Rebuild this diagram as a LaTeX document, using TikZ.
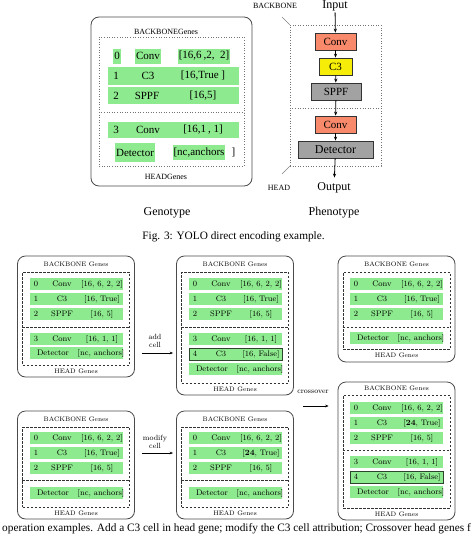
\documentclass[tikz,border=0pt]{standalone}
\usepackage{fontspec}
\usetikzlibrary{arrows.meta, positioning, calc}
\newfontfamily\figfont{Liberation Serif}
\definecolor{genegreen}{HTML}{8EEA8E}
\definecolor{convorange}{HTML}{F8896A}
\definecolor{cthreeyellow}{HTML}{F6EE08}
\definecolor{blockgray}{HTML}{A2A2A2}
\definecolor{framegray}{HTML}{4A4A4A}

% style, name, x-left, y, index, cell, args
\newcommand{\gtriple}[7]{%
  \node[genebar, #1] (#2) at (#3,#4) {};
  \node[genetext] (#2-n) at ([xshift=6pt]#2.west) {#5};
  \node[genetext] (#2-c) at ([xshift=32pt]#2.west) {#6};
  \node[genetext] (#2-a) at ([xshift=72pt]#2.west) {#7};
}
\newcommand{\detrow}[3]{%
  \node[genebar] (#1) at (#2,#3) {};
  \node[genetext] (#1-c) at ([xshift=23pt]#1.west) {Detector};
  \node[genetext] (#1-a) at ([xshift=71pt]#1.west) {[nc, anchors]};
}
% name, centre x, outer top, outer bottom, dashed top, dashed bottom, divider
\newcommand{\geneframe}[7]{%
  \node[outerframe, minimum width=117pt, minimum height=#4-#3] (#1) at (#2,{(#3+#4)/2}) {};
  \node[dashframe, minimum width=107pt, minimum height=#6-#5] (#1-in) at (#2,{(#5+#6)/2}) {};
  \draw[dashline] (#1-in.west |- 0,#7) -- (#1-in.east |- 0,#7);
  \node[framelabel] (#1-bb) at (#2,{(#3+#5)/2}) {BACKBONE Genes};
  \node[framelabel] (#1-hd) at (#2,{(#4+#6)/2}) {HEAD Genes};
}

\begin{document}
\begin{tikzpicture}[x=1pt, y=-1pt,
  every node/.style={font=\figfont},
  gpatch/.style={fill=genegreen, inner sep=1pt, minimum height=15pt, font=\figfont\fontsize{11}{13}\selectfont},
  gtxt/.style={font=\figfont\fontsize{11}{13}\selectfont, inner sep=0pt},
  gbar/.style={fill=genegreen, inner sep=0pt, minimum width=131pt},
  smalllbl/.style={font=\figfont\fontsize{8}{9}\selectfont, inner sep=0pt},
  biglbl/.style={font=\figfont\fontsize{12}{14}\selectfont, inner sep=1pt},
  block/.style={draw=black!80, line width=0.8pt, inner sep=0pt, minimum height=17pt, font=\figfont\fontsize{11}{13}\selectfont},
  flow/.style={-{Stealth[length=4pt, width=3.2pt]}, line width=0.8pt},
  tick/.style={draw=black!50, line width=0.4pt},
  outerframe/.style={draw=framegray, rounded corners=8pt, line width=0.8pt, inner sep=0pt},
  dotframe/.style={draw=black!55, dotted, line width=0.6pt, inner sep=0pt},
  dotline/.style={draw=black!55, dotted, line width=0.6pt},
  genebar/.style={fill=genegreen, anchor=west, minimum width=93pt, minimum height=12pt, inner sep=0pt},
  genetext/.style={font=\rmfamily\fontsize{8}{9}\selectfont, inner sep=0pt},
  dashframe/.style={draw=black!80, dash pattern=on 2.5pt off 1.5pt, line width=0.8pt, inner sep=0pt},
  dashline/.style={draw=black!80, dash pattern=on 2.5pt off 1.5pt, line width=0.8pt},
  framelabel/.style={font=\rmfamily\fontsize{6.5}{7}\selectfont, inner sep=0pt},
  oplabel/.style={font=\rmfamily\fontsize{7.5}{8.5}\selectfont, align=center, inner sep=0pt},
  oparrow/.style={-{Stealth[length=3.5pt, width=2.6pt]}, line width=0.5pt},
  newgene/.style={draw=black!70!genegreen, line width=0.8pt},
  caption/.style={font=\figfont\fontsize{11.3}{13}\selectfont, inner sep=0pt},
]
\useasboundingbox (0,0) rectangle (474,538);

% Genotype
\node[outerframe, minimum width=161pt, minimum height=169pt] (geno) at (171.5,101.5) {};
\node[dotframe, minimum width=145pt, minimum height=129pt] (genoin) at (171.5,101.5) {};
\draw[dotline] (genoin.west |- 0,112) -- (genoin.east |- 0,112);
\node[smalllbl] (genobb) at (166,32) {BACKBONEGenes};
\node[smalllbl] (genohd) at (166,177) {HEADGenes};

\node[gpatch] (g0n) at (117,56) {0};
\node[gpatch] (g0c) at (148,56) {Conv};
\node[gpatch] (g0a) at (204,56) {[16,6\,,2,\ \ 2]};
\node[gbar, minimum height=18pt] (g1) at (173.5,76) {};
\node[gtxt] (g1n) at (116,76) {1};
\node[gtxt] (g1c) at (148,76) {C3};
\node[gtxt] (g1a) at (203,76) {[16,True\ ]};
\node[gbar, minimum height=17pt] (g2) at (173.5,95.5) {};
\node[gtxt] (g2n) at (116,95.5) {2};
\node[gtxt] (g2c) at (147,95.5) {SPPF};
\node[gtxt] (g2a) at (203,95.5) {[16,5]};
\node[gbar, minimum height=16pt] (g3) at (173.5,130) {};
\node[gtxt] (g3n) at (116,130) {3};
\node[gtxt] (g3c) at (148,130) {Conv};
\node[gtxt] (g3a) at (203,130) {[16,1\,,\ 1]};
\node[gpatch, minimum height=19pt, inner sep=1.5pt] (g4c) at (135,152.5) {Detector};
\node[gpatch, inner sep=0.5pt] (g4a) at (199,152.5) {[nc,anchors};
\node[gtxt] (g4b) at (233.5,152.5) {]};
\node[biglbl] (genotxt) at (167,213) {Genotype};

% Phenotype
\node[dotframe, minimum width=91pt, minimum height=141pt] (pheno) at (335.5,95.5) {};
\draw[dotline] (pheno.west |- 0,108) -- (pheno.east |- 0,108);
\node[smalllbl] (bblbl) at (275,6) {BACKBONE};
\node[smalllbl] (hdlbl) at (279,188) {HEAD};
\coordinate (bbtick) at (282,17);
\coordinate (hdtick) at (282,174);
\draw[tick] (bbtick) -- (pheno.north west);
\draw[tick] (hdtick) -- (pheno.south west);

\node[biglbl] (input) at (335,6) {Input};
\node[block, fill=convorange, minimum width=41pt] (conv1) at (335.5,41.5) {Conv};
\node[block, fill=cthreeyellow, minimum width=33pt] (cthree) at (335.5,66.5) {C3};
\node[block, fill=blockgray, minimum width=50pt] (sppf) at (336,91.5) {SPPF};
\node[block, fill=convorange, minimum width=41pt] (conv2) at (335.5,124.5) {Conv};
\node[block, fill=blockgray, minimum width=75pt, font=\figfont\fontsize{12}{14}\selectfont] (det) at (335.5,149.5) {Detector};
\node[biglbl] (output) at (334,188) {Output};
\node[biglbl] (phenotxt) at (334,213) {Phenotype};

\draw[flow] (input) -- (conv1);
\draw[flow] (conv1) -- (cthree);
\draw[flow] (cthree) -- (sppf);
\draw[flow] (sppf) -- (conv2);
\draw[flow] (conv2) -- (det);
\draw[flow, shorten >=4pt] (det) -- (output);

\node[caption] (figcap) at (233.5,237) {Fig. 3: YOLO direct encoding example.};

% Lower panels
\geneframe{A}{76}{256}{377}{272}{365}{327}
\gtriple{}{A0}{30}{284}{0}{Conv}{[16, 6, 2, 2]}
\gtriple{}{A1}{30}{299}{1}{C3}{[16, True]}
\gtriple{}{A2}{30}{314}{2}{SPPF}{[16, 5]}
\gtriple{}{A3}{30}{339}{3}{Conv}{[16, 1, 1]}
\detrow{A4}{30}{353}

\geneframe{B}{235}{256}{395}{272}{383}{327}
\gtriple{}{B0}{189}{284}{0}{Conv}{[16, 6, 2, 2]}
\gtriple{}{B1}{189}{299}{1}{C3}{[16, True]}
\gtriple{}{B2}{189}{314}{2}{SPPF}{[16, 5]}
\gtriple{}{B3}{189}{339}{3}{Conv}{[16, 1, 1]}
\gtriple{newgene}{B4}{189}{354}{4}{C3}{[16, False]}
\detrow{B5}{189}{369}

\geneframe{C}{396.5}{256}{362}{272}{349}{327}
\gtriple{}{C0}{350}{284}{0}{Conv}{[16, 6, 2, 2]}
\gtriple{}{C1}{350}{299}{1}{C3}{[16, True]}
\gtriple{}{C2}{350}{314}{2}{SPPF}{[16, 5]}
\detrow{C3}{350}{338}

\geneframe{D}{76}{411}{519}{427}{507}{480}
\gtriple{}{D0}{30}{438}{0}{Conv}{[16, 6, 2, 2]}
\gtriple{}{D1}{30}{453}{1}{C3}{[16, True]}
\gtriple{}{D2}{30}{468}{2}{SPPF}{[16, 5]}
\detrow{D3}{30}{493}

\geneframe{E}{235}{411}{519}{427}{507}{480}
\gtriple{}{E0}{189}{438}{0}{Conv}{[16, 6, 2, 2]}
\gtriple{}{E1}{189}{453}{1}{C3}{[\textbf{24}, True]}
\gtriple{}{E2}{189}{468}{2}{SPPF}{[16, 5]}
\detrow{E3}{189}{493}

\geneframe{F}{396.5}{382}{520}{395}{508}{450}
\gtriple{}{F0}{350}{408}{0}{Conv}{[16, 6, 2, 2]}
\gtriple{}{F1}{350}{423}{1}{C3}{[\textbf{24}, True]}
\gtriple{}{F2}{350}{438}{2}{SPPF}{[16, 5]}
\gtriple{}{F3}{350}{462}{3}{Conv}{[16, 1, 1]}
\gtriple{newgene}{F4}{350}{477}{4}{C3}{[16, False]}
\detrow{F5}{350}{492}

% Operations
\node[oplabel] (addlbl) at (155,341) {add\\cell};
\node[oplabel] (modlbl) at (155,442) {modify\\cell};
\node[oplabel] (crosslbl) at (313,392) {crossover};
\coordinate (addS) at (142,353);
\coordinate (modS) at (142,453);
\coordinate (crossS) at (303,406);
\draw[oparrow, shorten >=3pt] (addS) -- (addS -| B.west);
\draw[oparrow, shorten >=3pt] (modS) -- (modS -| E.west);
\draw[oparrow, shorten >=9pt] (crossS) -- (crossS -| F.west);

\node[caption, anchor=west] (opcap) at (2,529) {operation examples. Add a C3 cell in head gene; modify the C3 cell attribution; Crossover head genes f};
\end{tikzpicture}
\end{document}
